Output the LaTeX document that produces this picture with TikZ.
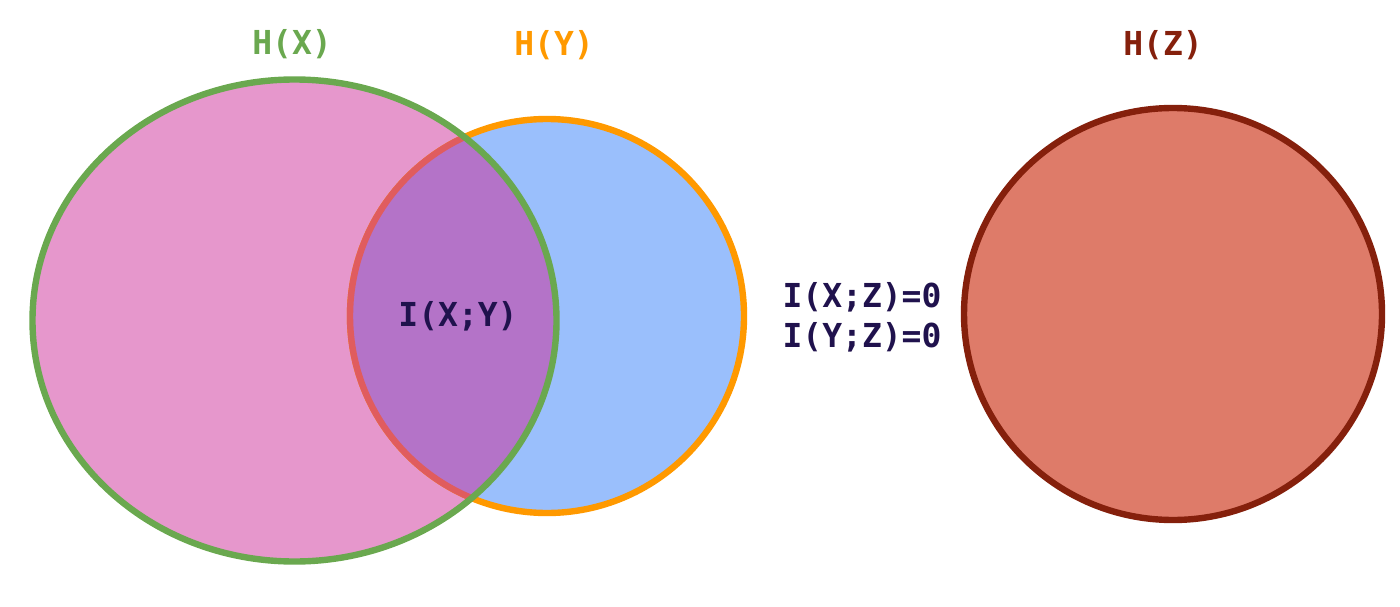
\documentclass[tikz,border=0pt]{standalone}
\usepackage{fontspec}
\setmonofont{DejaVu Sans Mono}
\usetikzlibrary{positioning}
\definecolor{hxline}{HTML}{6AA84F}
\definecolor{hxfill}{HTML}{E697CC}
\definecolor{hyline}{HTML}{FF9900}
\definecolor{hyfill}{HTML}{9ABFFC}
\definecolor{hzline}{HTML}{85200C}
\definecolor{hzfill}{HTML}{DE7B69}
\definecolor{ixyfill}{HTML}{B473C8}
\definecolor{ixyline}{HTML}{E05C5E}
\definecolor{infotext}{HTML}{20124D}
\tikzset{
  entlabel/.style={font=\ttfamily\bfseries\fontsize{16.5}{19}\selectfont},
  setline/.style={line width=3.2pt}
}
\begin{document}
\begin{tikzpicture}[x=0.5pt,y=0.5pt]
\useasboundingbox (0,0) rectangle (1400,606);
\coordinate (cx) at (294.5,285.5);
\coordinate (cy) at (547,290);
\coordinate (cz) at (1173,292);
% H(X) and H(Y)
\fill[hxfill] (cx) ellipse [x radius=131pt, y radius=120.5pt];
\filldraw[hyfill, draw=hyline, setline] (cy) circle [radius=98.5pt];
\begin{scope}
\clip (cx) ellipse [x radius=131pt, y radius=120.5pt];
\filldraw[ixyfill, draw=ixyline, setline] (cy) circle [radius=98.5pt];
\end{scope}
\draw[hxline, setline] (cx) ellipse [x radius=131pt, y radius=120.5pt];
% H(Z)
\filldraw[hzfill, draw=hzline, setline] (cz) ellipse [x radius=104.5pt, y radius=103pt];
% labels
\node[entlabel, text=hxline] (hx) at (292,562) {H(X)};
\node[entlabel, text=hyline] (hy) at (554,561) {H(Y)};
\node[entlabel, text=hzline] (hz) at (1163,561) {H(Z)};
\node[entlabel, text=infotext] (ixy) at (458,290) {I(X;Y)};
\node[entlabel, text=infotext] (ixz) at (862,309) {I(X;Z)=0};
\node[entlabel, text=infotext, below=-2pt of ixz] (iyz) {I(Y;Z)=0};
\end{tikzpicture}
\end{document}
